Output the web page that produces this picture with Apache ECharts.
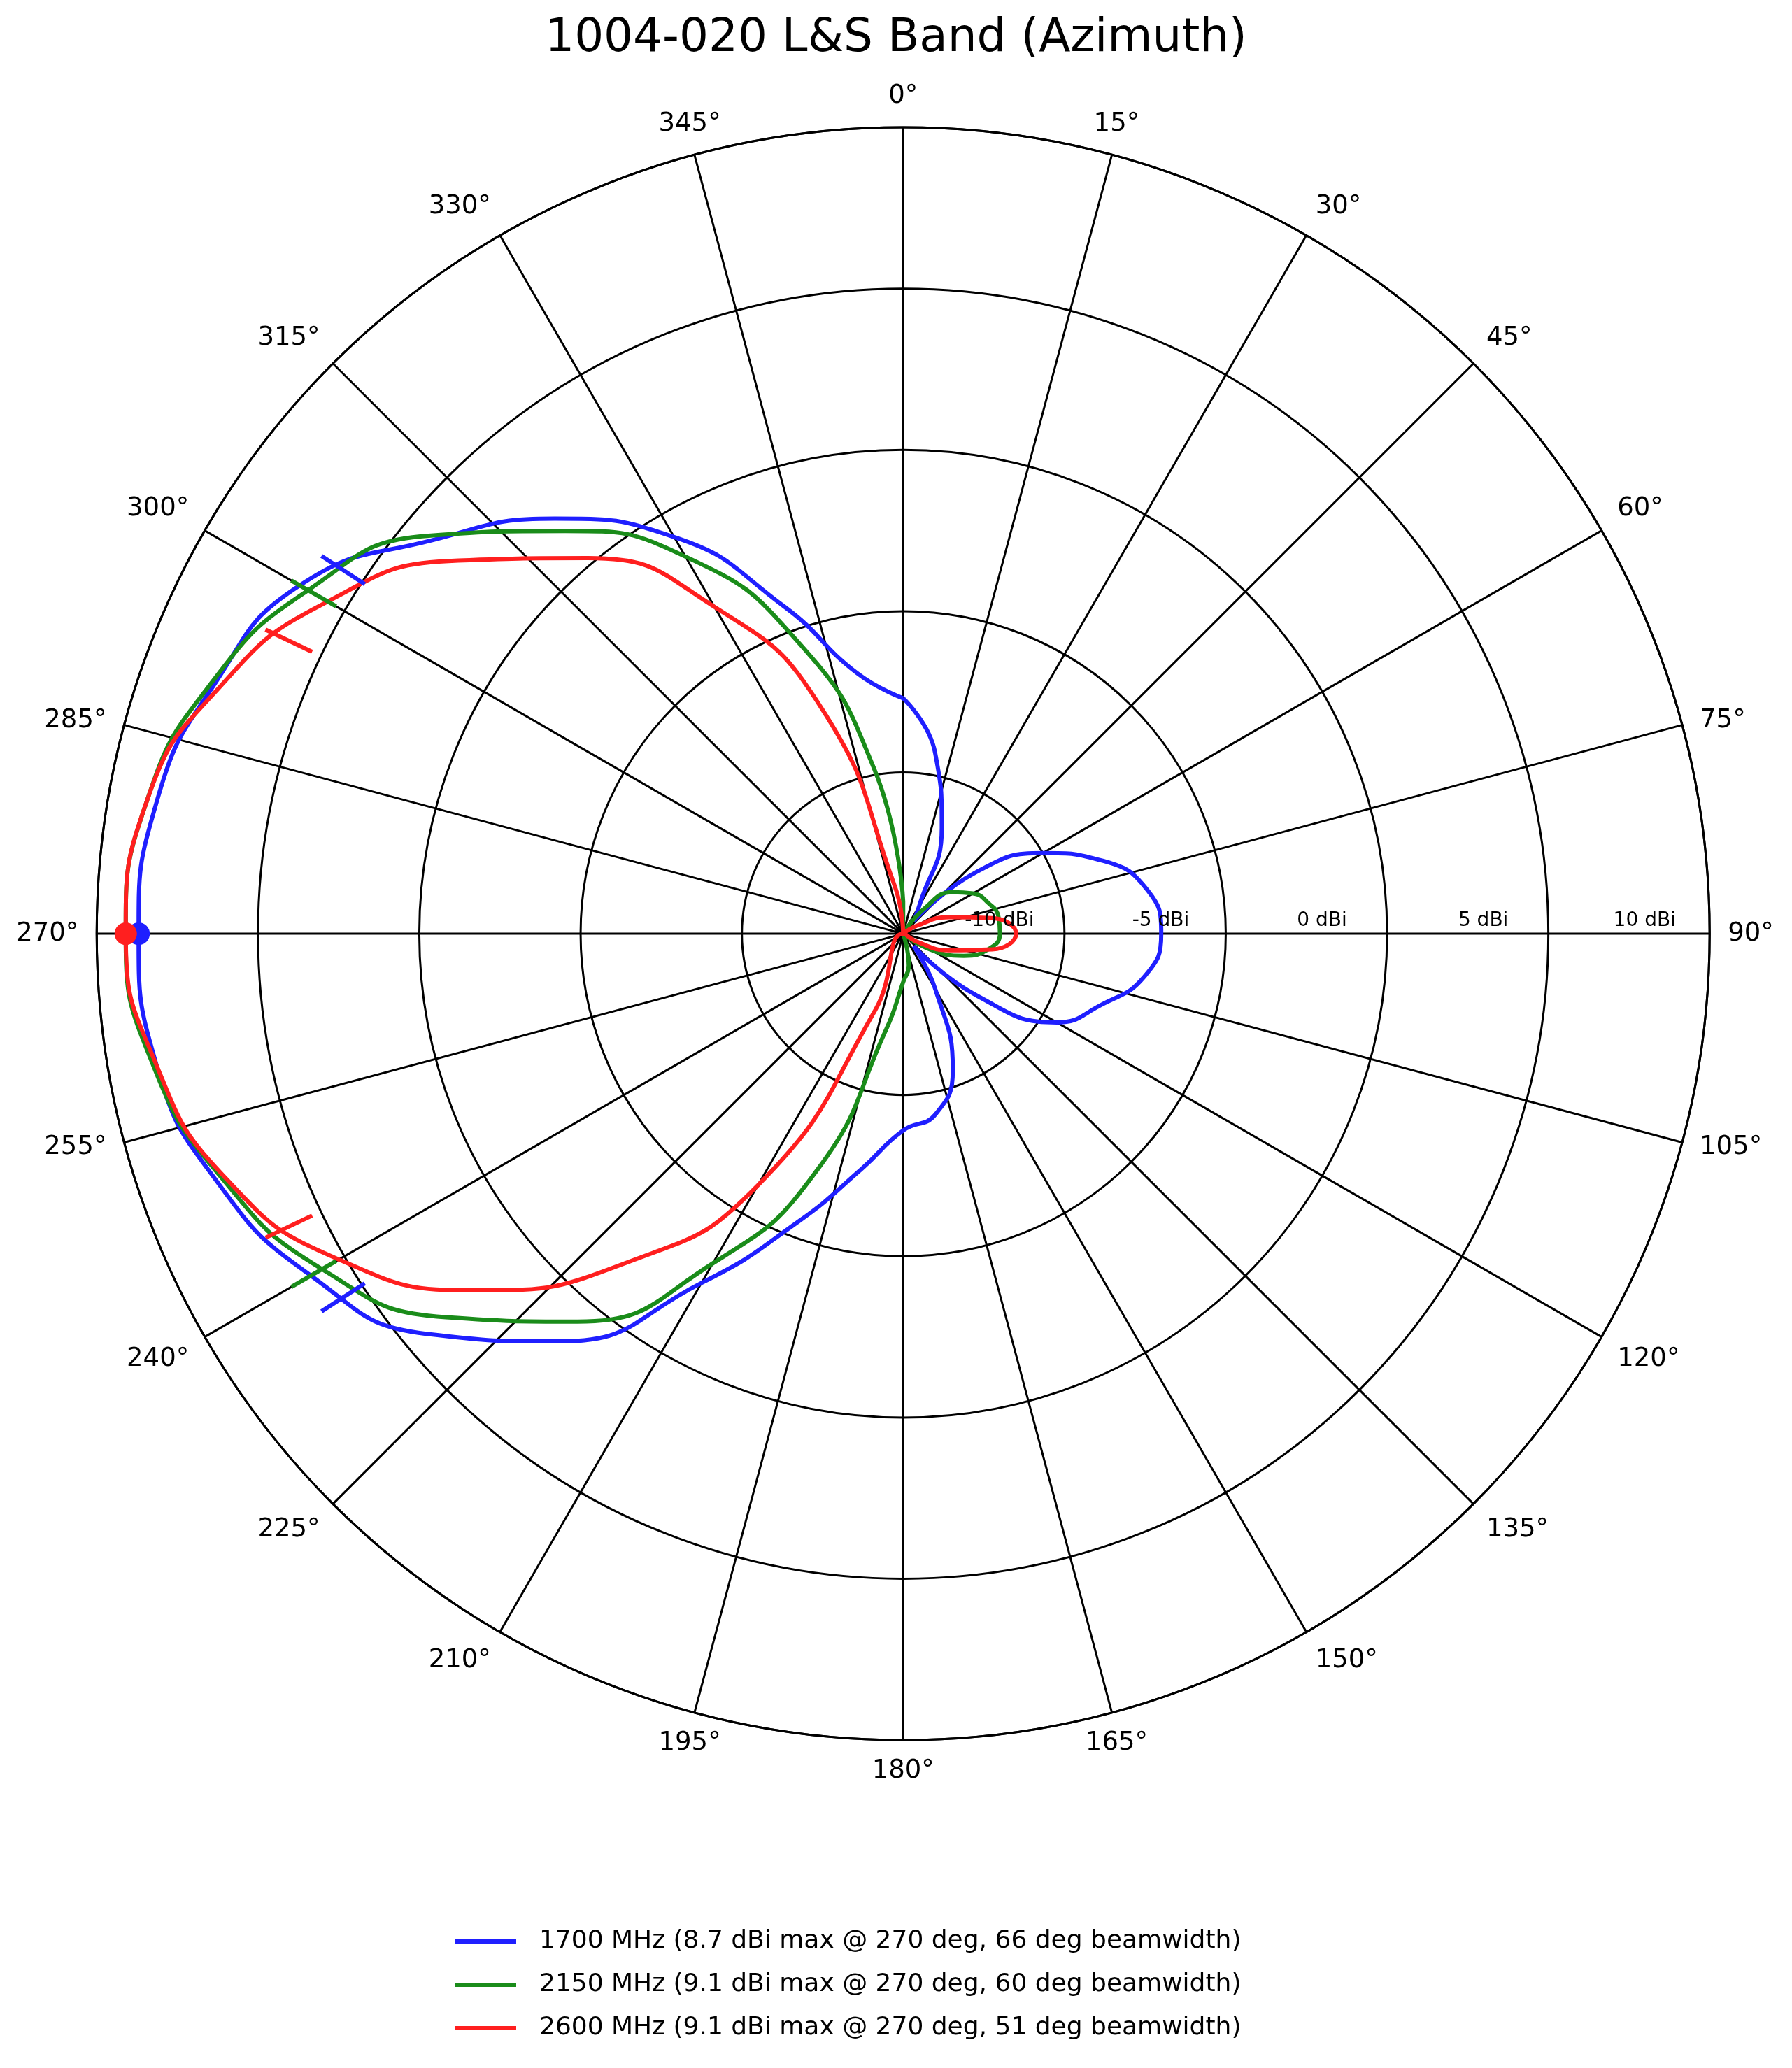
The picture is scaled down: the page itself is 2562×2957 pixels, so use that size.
<!DOCTYPE html>
<html>
<head>
<meta charset="utf-8">
<script src="https://cdn.jsdelivr.net/npm/echarts@6/dist/echarts.min.js"></script>
<style>html,body{margin:0;padding:0;background:#fff}#chart{width:2562px;height:2957px}</style>
</head>
<body>
<div id="chart"></div>
<script>
// azimuth angles, every 10 deg
let angles = [0,10,20,30,40,50,60,70,80,90,100,110,120,130,140,150,160,170,180,190,200,210,220,230,240,250,260,270,280,290,300,310,320,330,340,350];
let gain1700 = [-7.7,-9.3,-11.5,-14,-14.5,-12,-10,-8.4,-7.3,-7.0,-7.4,-8.5,-9.5,-12,-14.5,-13,-10.5,-9.3,-8.9,-7.6,-5.5,-2.5,1.5,4.3,6.2,7.6,8.5,8.7,8.5,7.7,6.6,4.0,1.8,-0.8,-4.2,-6.8];
let gain2150 = [-14,-15,-15,-15,-14,-13,-12.5,-12.2,-12,-12,-12.3,-13,-14,-15,-15,-15,-15,-14,-13.5,-12,-7.2,-3.2,0.7,3.5,5.8,7.4,8.6,9.1,8.8,7.8,6.3,4.2,1.3,-1.5,-5.3,-9.8];
let gain2600 = [-15,-15,-15,-15,-15,-15,-14.5,-13.5,-12.2,-11.5,-12.2,-13.5,-14.5,-15,-15,-15,-15,-15,-15,-15,-12.5,-6,-1.7,2.2,5.2,7.3,8.5,9.1,8.8,7.5,5.6,3.0,0.2,-3.3,-7.5,-13.5];
let seriesNames = ['1700 MHz (8.7 dBi max @ 270 deg, 66 deg beamwidth)','2150 MHz (9.1 dBi max @ 270 deg, 60 deg beamwidth)','2600 MHz (9.1 dBi max @ 270 deg, 51 deg beamwidth)'];
let colors = ['#1f1fff','#1a8c1a','#ff1f1f'];
let maxGain = [8.7, 9.1, 9.1];
let beamEdges = [[237, 303], [240, 300], [244.5, 295.5]];
let ringTicks = [-10, -5, 0, 5, 10];

let chart = echarts.init(document.getElementById('chart'));
let gains = [gain1700, gain2150, gain2600];
let series = [];
gains.forEach((g, i) => {
  let pts = angles.map((a, k) => [g[k], a]);
  pts.push([g[0], 360]);
  series.push({
    name: seriesNames[i], type: 'line', coordinateSystem: 'polar', smooth: 0.5,
    symbol: 'none', data: pts, lineStyle: {color: colors[i], width: 6}, itemStyle: {color: colors[i]}, z: 3
  });
  beamEdges[i].forEach(a => {
    series.push({
      name: 'bw' + i, type: 'line', coordinateSystem: 'polar', symbol: 'none', silent: true,
      data: [[maxGain[i] - 3 - 0.8, a], [maxGain[i] - 3 + 0.8, a]],
      lineStyle: {color: colors[i], width: 6}, z: 4
    });
  });
});
[0, 2].forEach(i => {
  series.push({
    name: 'max' + i, type: 'scatter', coordinateSystem: 'polar', symbolSize: 32,
    data: [[maxGain[i], 270]], itemStyle: {color: colors[i], opacity: 1}, z: 5
  });
});

chart.setOption({
  animation: false,
  backgroundColor: '#fff',
  title: {text: '1004-020 L&S Band (Azimuth)', left: 'center', top: 18,
    textStyle: {fontFamily: 'DejaVu Sans', fontSize: 66, fontWeight: 'normal', color: '#000'}},
  polar: {center: ['50.4%', '45.15%'], radius: 1153},
  angleAxis: {
    type: 'value', min: 0, max: 360, interval: 15, startAngle: 90, clockwise: true,
    axisLine: {lineStyle: {color: '#000', width: 3}},
    axisTick: {show: false},
    axisLabel: {margin: 26, fontFamily: 'DejaVu Sans', fontSize: 37, color: '#000',
      formatter: v => v === 360 ? '' : v + '°'},
    splitLine: {show: true, lineStyle: {color: '#000', width: 3}}
  },
  radiusAxis: {
    type: 'value', min: -15, max: 10, interval: 5,
    axisLine: {show: false}, axisTick: {show: false}, axisLabel: {show: false},
    splitLine: {show: true, lineStyle: {color: '#000', width: 3}}
  },
  legend: {
    data: seriesNames, orient: 'vertical', left: 645, top: 2753, itemGap: 26,
    itemWidth: 88, itemHeight: 6, icon: 'rect',
    textStyle: {fontFamily: 'DejaVu Sans', fontSize: 36, color: '#000', padding: [0, 0, 0, 28]}
  },
  series: series
});

let texts = ringTicks.map(v => {
  let p = chart.convertToPixel({polarIndex: 0}, [v, 90]);
  return {type: 'text', x: p[0] - 93, y: p[1] - 18,
    style: {text: v + ' dBi', fill: '#000', font: '28px "DejaVu Sans"', textAlign: 'center', textVerticalAlign: 'middle'}, z: 10};
});
chart.setOption({graphic: texts});
</script>
</body>
</html>
